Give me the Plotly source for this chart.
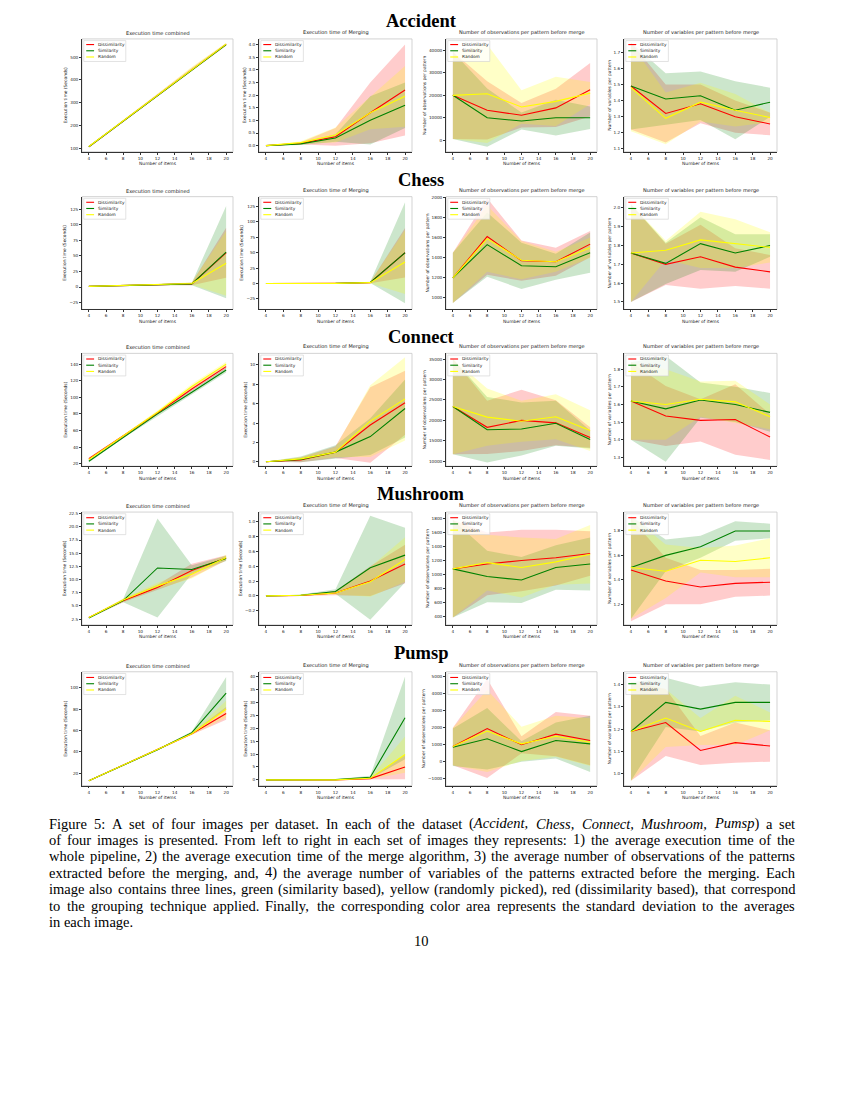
import re
import plotly.graph_objects as go

# ---------------- data ----------------
X_ITEMS = [4, 8, 12, 16, 20]
X_TICKS = [4, 6, 8, 10, 12, 14, 16, 18, 20]
DATASETS = ["Accident", "Chess", "Connect", "Mushroom", "Pumsp"]
PANEL_TITLES = ["Execution time combined", "Execution time of Merging",
                "Number of observations per pattern before merge",
                "Number of variables per pattern before merge"]
Y_TITLES = ["Execution time (Seconds)", "Execution time (Seconds)",
            "Number of observations per pattern", "Number of variables per pattern"]
X_TITLE = "Number of items"
METHODS = ["Dissimilarity", "Similarity", "Random"]

# Accident
ACC_COMB_DIS = [107, 220, 333, 447, 556]
ACC_COMB_DIS_SD = [2, 3, 4, 6, 5]
ACC_COMB_SIM = [107, 219, 331, 445, 555]
ACC_COMB_SIM_SD = [2, 3, 4, 5, 5]
ACC_COMB_RND = [108, 221, 334, 448, 557]
ACC_COMB_RND_SD = [2, 3, 5, 10, 6]
ACC_MERGE_DIS = [0.0, 0.09, 0.35, 1.3, 2.2]
ACC_MERGE_DIS_SD = [0.01, 0.04, 0.35, 1.2, 1.8]
ACC_MERGE_SIM = [0.0, 0.07, 0.3, 1.0, 1.6]
ACC_MERGE_SIM_SD = [0.01, 0.04, 0.15, 0.95, 0.9]
ACC_MERGE_RND = [0.0, 0.12, 0.42, 1.3, 1.95]
ACC_MERGE_RND_SD = [0.01, 0.05, 0.3, 0.65, 1.2]
ACC_OBS_DIS = [20000, 13300, 11100, 14400, 22500]
ACC_OBS_DIS_SD = [19500, 13000, 5500, 8500, 12000]
ACC_OBS_SIM = [20000, 10000, 8500, 10000, 10000]
ACC_OBS_SIM_SD = [19500, 13000, 3800, 8000, 5000]
ACC_OBS_RND = [20000, 20700, 14800, 17300, 21000]
ACC_OBS_RND_SD = [19500, 22000, 7500, 11000, 5000]
ACC_VAR_DIS = [1.49, 1.32, 1.38, 1.30, 1.255]
ACC_VAR_DIS_SD = [0.27, 0.18, 0.12, 0.10, 0.07]
ACC_VAR_SIM = [1.49, 1.41, 1.43, 1.34, 1.39]
ACC_VAR_SIM_SD = [0.27, 0.16, 0.15, 0.18, 0.09]
ACC_VAR_RND = [1.48, 1.29, 1.39, 1.34, 1.295]
ACC_VAR_RND_SD = [0.27, 0.16, 0.12, 0.10, 0.03]

# Chess
CHE_COMB_DIS = [1.0, 2.0, 3.8, 5.0, 55]
CHE_COMB_DIS_SD = [0.3, 0.5, 1.0, 2.0, 40]
CHE_COMB_SIM = [1.0, 2.0, 3.8, 5.0, 56]
CHE_COMB_SIM_SD = [0.3, 0.5, 1.0, 2.0, 74]
CHE_COMB_RND = [1.0, 2.2, 4.0, 5.5, 38]
CHE_COMB_RND_SD = [0.3, 0.5, 1.0, 2.0, 52]
CHE_MERGE_DIS = [0.0, 0.1, 0.3, 1.5, 50]
CHE_MERGE_DIS_SD = [0.0, 0.05, 0.2, 1.0, 40]
CHE_MERGE_SIM = [0.0, 0.1, 0.3, 1.8, 50]
CHE_MERGE_SIM_SD = [0.0, 0.05, 0.2, 1.0, 82]
CHE_MERGE_RND = [0.0, 0.1, 0.3, 1.5, 35]
CHE_MERGE_RND_SD = [0.0, 0.05, 0.2, 1.0, 52]
CHE_OBS_DIS = [1200, 1610, 1370, 1360, 1535]
CHE_OBS_DIS_SD = [250, 380, 200, 140, 130]
CHE_OBS_SIM = [1200, 1530, 1320, 1310, 1450]
CHE_OBS_SIM_SD = [250, 320, 230, 130, 200]
CHE_OBS_RND = [1200, 1590, 1375, 1360, 1500]
CHE_OBS_RND_SD = [250, 330, 190, 100, 100]
CHE_VAR_DIS = [1.76, 1.70, 1.74, 1.685, 1.66]
CHE_VAR_DIS_SD = [0.26, 0.11, 0.17, 0.10, 0.09]
CHE_VAR_SIM = [1.76, 1.705, 1.81, 1.76, 1.80]
CHE_VAR_SIM_SD = [0.26, 0.11, 0.14, 0.10, 0.06]
CHE_VAR_RND = [1.76, 1.775, 1.83, 1.81, 1.79]
CHE_VAR_RND_SD = [0.26, 0.05, 0.15, 0.13, 0.08]

# Connect
CON_COMB_DIS = [26, 53, 81, 110, 137]
CON_COMB_DIS_SD = [1.5, 1.5, 2.0, 2.5, 3.0]
CON_COMB_SIM = [23, 52, 80, 106, 133]
CON_COMB_SIM_SD = [1.5, 1.5, 2.0, 2.5, 3.0]
CON_COMB_RND = [25, 53, 82, 113, 140]
CON_COMB_RND_SD = [1.5, 1.5, 2.0, 3.0, 3.0]
CON_MERGE_DIS = [0.0, 0.2, 1.0, 3.8, 6.1]
CON_MERGE_DIS_SD = [0.0, 0.25, 0.6, 3.9, 3.3]
CON_MERGE_SIM = [0.0, 0.25, 1.0, 2.6, 5.5]
CON_MERGE_SIM_SD = [0.0, 0.3, 0.7, 1.9, 3.0]
CON_MERGE_RND = [0.0, 0.3, 1.0, 4.2, 6.5]
CON_MERGE_RND_SD = [0.0, 0.2, 0.5, 3.7, 4.3]
CON_OBS_DIS = [23400, 18300, 20000, 19400, 15800]
CON_OBS_DIS_SD = [11700, 6500, 7500, 5500, 2500]
CON_OBS_SIM = [23400, 17700, 17900, 19300, 15300]
CON_OBS_SIM_SD = [11700, 8000, 6500, 5500, 2200]
CON_OBS_RND = [23400, 20800, 19800, 20900, 17500]
CON_OBS_RND_SD = [11700, 7000, 5000, 5500, 5000]
CON_VAR_DIS = [1.62, 1.535, 1.51, 1.515, 1.415]
CON_VAR_DIS_SD = [0.22, 0.17, 0.12, 0.20, 0.13]
CON_VAR_SIM = [1.62, 1.575, 1.625, 1.60, 1.555]
CON_VAR_SIM_SD = [0.22, 0.30, 0.10, 0.10, 0.11]
CON_VAR_RND = [1.62, 1.60, 1.63, 1.615, 1.53]
CON_VAR_RND_SD = [0.22, 0.20, 0.10, 0.12, 0.07]

# Mushroom
MUS_COMB_DIS = [2.8, 6.0, 8.5, 11.7, 14.1]
MUS_COMB_DIS_SD = [0.1, 0.3, 0.5, 1.3, 0.5]
MUS_COMB_SIM = [2.7, 6.0, 12.2, 11.9, 14.0]
MUS_COMB_SIM_SD = [0.1, 0.3, 9.4, 0.8, 0.5]
MUS_COMB_RND = [2.8, 6.1, 8.8, 11.0, 14.2]
MUS_COMB_RND_SD = [0.1, 0.3, 0.6, 0.8, 0.5]
MUS_MERGE_DIS = [0.0, 0.005, 0.04, 0.2, 0.43]
MUS_MERGE_DIS_SD = [0.0, 0.005, 0.03, 0.2, 0.26]
MUS_MERGE_SIM = [0.0, 0.01, 0.06, 0.38, 0.55]
MUS_MERGE_SIM_SD = [0.0, 0.01, 0.03, 0.7, 0.37]
MUS_MERGE_RND = [0.0, 0.01, 0.04, 0.19, 0.49]
MUS_MERGE_RND_SD = [0.0, 0.01, 0.02, 0.2, 0.3]
MUS_OBS_DIS = [1080, 1150, 1200, 1240, 1300]
MUS_OBS_DIS_SD = [700, 450, 440, 400, 320]
MUS_OBS_SIM = [1080, 970, 920, 1100, 1150]
MUS_OBS_SIM_SD = [700, 370, 330, 320, 380]
MUS_OBS_RND = [1080, 1170, 1100, 1180, 1290]
MUS_OBS_RND_SD = [700, 400, 430, 330, 420]
MUS_VAR_DIS = [1.48, 1.39, 1.34, 1.37, 1.38]
MUS_VAR_DIS_SD = [0.42, 0.19, 0.14, 0.11, 0.11]
MUS_VAR_SIM = [1.50, 1.60, 1.67, 1.80, 1.80]
MUS_VAR_SIM_SD = [0.42, 0.13, 0.09, 0.08, 0.06]
MUS_VAR_RND = [1.50, 1.47, 1.56, 1.55, 1.58]
MUS_VAR_RND_SD = [0.42, 0.22, 0.10, 0.13, 0.16]

# Pumsp
PUM_COMB_DIS = [13, 27.5, 42, 57, 76]
PUM_COMB_DIS_SD = [0.3, 0.5, 0.6, 1.0, 6]
PUM_COMB_SIM = [13, 27.5, 42, 58, 95]
PUM_COMB_SIM_SD = [0.3, 0.5, 0.6, 1.0, 15]
PUM_COMB_RND = [13, 27.5, 42, 57, 80]
PUM_COMB_RND_SD = [0.3, 0.5, 0.6, 1.0, 8]
PUM_MERGE_DIS = [0.0, 0.0, 0.0, 0.5, 5.0]
PUM_MERGE_DIS_SD = [0.0, 0.0, 0.0, 0.3, 4.8]
PUM_MERGE_SIM = [0.0, 0.0, 0.1, 1.0, 24]
PUM_MERGE_SIM_SD = [0.0, 0.0, 0.1, 0.6, 16]
PUM_MERGE_RND = [0.0, 0.0, 0.0, 0.6, 9.8]
PUM_MERGE_RND_SD = [0.0, 0.0, 0.0, 0.3, 7.0]
PUM_OBS_DIS = [900, 1950, 1000, 1620, 1250]
PUM_OBS_DIS_SD = [1100, 2900, 500, 1300, 1450]
PUM_OBS_SIM = [850, 1350, 600, 1250, 1050]
PUM_OBS_SIM_SD = [1100, 1800, 600, 1050, 1650]
PUM_OBS_RND = [900, 1800, 1050, 1500, 1150]
PUM_OBS_RND_SD = [1100, 2400, 1000, 1200, 1400]
PUM_VAR_DIS = [1.19, 1.23, 1.105, 1.14, 1.125]
PUM_VAR_DIS_SD = [0.22, 0.15, 0.065, 0.09, 0.07]
PUM_VAR_SIM = [1.19, 1.32, 1.29, 1.32, 1.32]
PUM_VAR_SIM_SD = [0.22, 0.11, 0.10, 0.09, 0.08]
PUM_VAR_RND = [1.19, 1.25, 1.19, 1.24, 1.235]
PUM_VAR_RND_SD = [0.22, 0.13, 0.06, 0.11, 0.04]

CAPTION_LINES = [
    "Figure 5: A set of four images per dataset. In each of the dataset (<i>Accident,</i> <i>Chess,</i> <i>Connect,</i> <i>Mushroom,</i> <i>Pumsp</i>) a set",
    "of four images is presented. From left to right in each set of images they represents: 1) the average execution time of the",
    "whole pipeline, 2) the average execution time of the merge algorithm, 3) the average number of observations of the patterns",
    "extracted before the merging, and, 4) the average number of variables of the patterns extracted before the merging. Each",
    "image also contains three lines, green (similarity based), yellow (randomly picked), red (dissimilarity based), that correspond",
    "to the grouping technique applied. Finally, the corresponding color area represents the standard deviation to the averages",
    "in each image.",
]
PAGE_NUMBER = "10"

PANELS = [
    [[(ACC_COMB_DIS, ACC_COMB_DIS_SD), (ACC_COMB_SIM, ACC_COMB_SIM_SD), (ACC_COMB_RND, ACC_COMB_RND_SD)],
     [(ACC_MERGE_DIS, ACC_MERGE_DIS_SD), (ACC_MERGE_SIM, ACC_MERGE_SIM_SD), (ACC_MERGE_RND, ACC_MERGE_RND_SD)],
     [(ACC_OBS_DIS, ACC_OBS_DIS_SD), (ACC_OBS_SIM, ACC_OBS_SIM_SD), (ACC_OBS_RND, ACC_OBS_RND_SD)],
     [(ACC_VAR_DIS, ACC_VAR_DIS_SD), (ACC_VAR_SIM, ACC_VAR_SIM_SD), (ACC_VAR_RND, ACC_VAR_RND_SD)]],
    [[(CHE_COMB_DIS, CHE_COMB_DIS_SD), (CHE_COMB_SIM, CHE_COMB_SIM_SD), (CHE_COMB_RND, CHE_COMB_RND_SD)],
     [(CHE_MERGE_DIS, CHE_MERGE_DIS_SD), (CHE_MERGE_SIM, CHE_MERGE_SIM_SD), (CHE_MERGE_RND, CHE_MERGE_RND_SD)],
     [(CHE_OBS_DIS, CHE_OBS_DIS_SD), (CHE_OBS_SIM, CHE_OBS_SIM_SD), (CHE_OBS_RND, CHE_OBS_RND_SD)],
     [(CHE_VAR_DIS, CHE_VAR_DIS_SD), (CHE_VAR_SIM, CHE_VAR_SIM_SD), (CHE_VAR_RND, CHE_VAR_RND_SD)]],
    [[(CON_COMB_DIS, CON_COMB_DIS_SD), (CON_COMB_SIM, CON_COMB_SIM_SD), (CON_COMB_RND, CON_COMB_RND_SD)],
     [(CON_MERGE_DIS, CON_MERGE_DIS_SD), (CON_MERGE_SIM, CON_MERGE_SIM_SD), (CON_MERGE_RND, CON_MERGE_RND_SD)],
     [(CON_OBS_DIS, CON_OBS_DIS_SD), (CON_OBS_SIM, CON_OBS_SIM_SD), (CON_OBS_RND, CON_OBS_RND_SD)],
     [(CON_VAR_DIS, CON_VAR_DIS_SD), (CON_VAR_SIM, CON_VAR_SIM_SD), (CON_VAR_RND, CON_VAR_RND_SD)]],
    [[(MUS_COMB_DIS, MUS_COMB_DIS_SD), (MUS_COMB_SIM, MUS_COMB_SIM_SD), (MUS_COMB_RND, MUS_COMB_RND_SD)],
     [(MUS_MERGE_DIS, MUS_MERGE_DIS_SD), (MUS_MERGE_SIM, MUS_MERGE_SIM_SD), (MUS_MERGE_RND, MUS_MERGE_RND_SD)],
     [(MUS_OBS_DIS, MUS_OBS_DIS_SD), (MUS_OBS_SIM, MUS_OBS_SIM_SD), (MUS_OBS_RND, MUS_OBS_RND_SD)],
     [(MUS_VAR_DIS, MUS_VAR_DIS_SD), (MUS_VAR_SIM, MUS_VAR_SIM_SD), (MUS_VAR_RND, MUS_VAR_RND_SD)]],
    [[(PUM_COMB_DIS, PUM_COMB_DIS_SD), (PUM_COMB_SIM, PUM_COMB_SIM_SD), (PUM_COMB_RND, PUM_COMB_RND_SD)],
     [(PUM_MERGE_DIS, PUM_MERGE_DIS_SD), (PUM_MERGE_SIM, PUM_MERGE_SIM_SD), (PUM_MERGE_RND, PUM_MERGE_RND_SD)],
     [(PUM_OBS_DIS, PUM_OBS_DIS_SD), (PUM_OBS_SIM, PUM_OBS_SIM_SD), (PUM_OBS_RND, PUM_OBS_RND_SD)],
     [(PUM_VAR_DIS, PUM_VAR_DIS_SD), (PUM_VAR_SIM, PUM_VAR_SIM_SD), (PUM_VAR_RND, PUM_VAR_RND_SD)]],
]

# ---------------- axes / styling ----------------
# (range, tick0, dtick, tickformat)
Y_AXES = [
    [([85, 580], 100, 100, "d"), ([-0.24, 4.22], 0, 0.5, ".1f"),
     ([-5200, 45200], 0, 10000, "d"), ([1.083, 1.782], 1.1, 0.1, ".1f")],
    [([-36, 145], -25, 25, "d"), ([-42, 141], -25, 25, "d"),
     ([886, 2007], 1000, 200, "d"), ([1.46, 2.06], 1.5, 0.1, ".1f")],
    [([17, 153], 20, 20, "d"), ([-0.45, 11.2], 0, 2, "d"),
     ([8800, 36400], 10000, 5000, "d"), ([1.25, 1.89], 1.3, 0.1, ".1f")],
    [([1.4, 22.8], 2.5, 2.5, ".1f"), ([-0.39, 1.13], -0.2, 0.2, ".1f"),
     ([276, 1895], 400, 200, "d"), ([1.03, 1.955], 1.2, 0.2, ".1f")],
    [([8.5, 115], 20, 20, "d"), ([-2.2, 41.8], 0, 5, "d"),
     ([-1390, 5270], -1000, 1000, "d"), ([0.948, 1.457], 1.0, 0.1, ".1f")],
]

W, H = 850, 1100
COL_PX = [(82, 233), (259, 412), (446, 597), (624, 777)]
ROW_PX = [(37, 150), (195, 308), (352, 465), (511, 624), (671, 785)]
ROW_TITLE_Y = [19, 178, 336, 493, 652]

LINE_COLORS = ["#ff0000", "#008000", "#ffff00"]
FILL_COLORS = ["rgba(255,0,0,0.2)", "rgba(0,128,0,0.2)", "rgba(255,255,0,0.22)"]
SANS = "DejaVu Sans"
SERIF = "Liberation Serif"

# Times-compatible advance widths (1/1000 em) used to justify the caption
_TW = {" ": 250, ",": 250, ".": 250, ":": 278, "(": 333, ")": 333, "-": 333}
_TW.update({c: 500 for c in "0123456789"})
_TW.update(dict(zip("abcdefghijklmnopqrstuvwxyz",
                    [444, 500, 444, 500, 444, 333, 500, 500, 278, 278, 500, 278, 778,
                     500, 500, 500, 500, 333, 389, 278, 500, 500, 722, 500, 500, 444])))
_TW.update(dict(zip("ABCDEFGHIJKLMNOPQRSTUVWXYZ",
                    [722, 667, 667, 722, 611, 556, 722, 722, 333, 389, 722, 611, 889,
                     722, 722, 556, 722, 667, 556, 611, 722, 722, 944, 722, 722, 611])))


def text_w(s, size):
    plain = re.sub(r"<[^>]+>", "", s)
    return sum(_TW.get(ch, 500) for ch in plain) / 1000.0 * size


fig = go.Figure()
layout = {}
annotations = []
shapes = []

for r in range(5):
    for c in range(4):
        i = r * 4 + c + 1
        sfx = "" if i == 1 else str(i)
        xa, ya = "x" + sfx, "y" + sfx
        series = PANELS[r][c]
        for (m, s), fc in zip(series, FILL_COLORS):
            up = [a + b for a, b in zip(m, s)]
            lo = [a - b for a, b in zip(m, s)]
            fig.add_trace(go.Scatter(
                x=X_ITEMS + X_ITEMS[::-1], y=up + lo[::-1], fill="toself",
                fillcolor=fc, mode="lines", line=dict(width=0, color=fc),
                xaxis=xa, yaxis=ya, showlegend=False, hoverinfo="skip"))
        for (m, s), lc, name in zip(series, LINE_COLORS, METHODS):
            fig.add_trace(go.Scatter(
                x=X_ITEMS, y=m, mode="lines", name=name,
                line=dict(color=lc, width=1.1),
                xaxis=xa, yaxis=ya, showlegend=False))

        x0, x1 = COL_PX[c]
        top, bot = ROW_PX[r]
        yr, t0, dt, fmt = Y_AXES[r][c]
        layout["xaxis" + sfx] = dict(
            domain=[x0 / W, x1 / W], anchor=ya, range=[3.2, 20.8],
            tickmode="array", tickvals=X_TICKS, ticks="outside", ticklen=2,
            tickwidth=0.6, tickcolor="#333", showgrid=False, zeroline=False,
            showline=True, linecolor="#333", linewidth=0.8,
            tickfont=dict(family=SANS, size=4.2, color="#222"),
            title=dict(text=X_TITLE, font=dict(family=SANS, size=4.4, color="#222"), standoff=2))
        layout["yaxis" + sfx] = dict(
            domain=[1 - bot / H, 1 - top / H], anchor=xa, range=yr,
            tick0=t0, dtick=dt, tickformat=fmt, ticks="outside", ticklen=2,
            tickwidth=0.6, tickcolor="#333", showgrid=False, zeroline=False,
            showline=True, linecolor="#333", linewidth=0.8,
            tickfont=dict(family=SANS, size=4.2, color="#222"),
            title=dict(text=Y_TITLES[c], font=dict(family=SANS, size=4.4, color="#222"), standoff=2))

        xd, yd = xa + " domain", ya + " domain"
        shapes.append(dict(type="rect", xref=xd, yref=yd, x0=0, x1=1, y0=0, y1=1,
                           line=dict(color="#c8c8c8", width=0.8), layer="below"))
        annotations.append(dict(text=PANEL_TITLES[c], xref=xd, yref=yd, x=0.5, y=1.0,
                                yanchor="bottom", xanchor="center", yshift=1, showarrow=False,
                                font=dict(family=SANS, size=5.0, color="#222")))
        shapes.append(dict(type="rect", xref=xd, yref=yd, x0=0.012, x1=0.29, y0=0.80, y1=0.985,
                           line=dict(color="#d0d0d0", width=0.6),
                           fillcolor="rgba(255,255,255,0.8)", layer="above"))
        for k, (name, lc) in enumerate(zip(METHODS, LINE_COLORS)):
            yy = 0.95 - k * 0.055
            shapes.append(dict(type="line", xref=xd, yref=yd, x0=0.028, x1=0.08, y0=yy, y1=yy,
                               line=dict(color=lc, width=1.1), layer="above"))
            annotations.append(dict(text=name, xref=xd, yref=yd, x=0.093, y=yy,
                                    xanchor="left", yanchor="middle", showarrow=False,
                                    font=dict(family=SANS, size=4.3, color="#222")))

for name, yp in zip(DATASETS, ROW_TITLE_Y):
    annotations.append(dict(text="<b>" + name + "</b>", xref="paper", yref="paper",
                            x=421 / W, y=1 - yp / H, xanchor="center", yanchor="middle",
                            showarrow=False, font=dict(family=SERIF, size=18.5, color="black")))

# caption: justified lines (each word placed), last line left aligned
CAP_SIZE = 14.5
CAP_L, CAP_R = 47, 793
for k, line in enumerate(CAPTION_LINES):
    yp = 1 - (823 + 16.5 * k) / H
    words = line.split(" ")
    last = (k == len(CAPTION_LINES) - 1)
    if last:
        annotations.append(dict(text=line, xref="paper", yref="paper", x=CAP_L / W, y=yp,
                                xanchor="left", yanchor="middle", showarrow=False,
                                font=dict(family=SERIF, size=CAP_SIZE, color="black")))
        continue
    widths = [text_w(w, CAP_SIZE) for w in words]
    gap = (CAP_R - CAP_L - sum(widths)) / (len(words) - 1)
    xpos = CAP_L
    for w, ww in zip(words, widths):
        annotations.append(dict(text=w, xref="paper", yref="paper", x=xpos / W, y=yp,
                                xanchor="left", yanchor="middle", showarrow=False,
                                font=dict(family=SERIF, size=CAP_SIZE, color="black")))
        xpos += ww + gap

annotations.append(dict(text=PAGE_NUMBER, xref="paper", yref="paper", x=421 / W,
                        y=1 - 941 / H, xanchor="center", yanchor="middle", showarrow=False,
                        font=dict(family=SERIF, size=14.5, color="black")))

fig.update_layout(**layout)
fig.update_layout(width=W, height=H, margin=dict(l=0, r=0, t=0, b=0),
                  paper_bgcolor="white", plot_bgcolor="white",
                  annotations=annotations, shapes=shapes, showlegend=False)

fig.write_html("out.html", include_plotlyjs=True, config={"displayModeBar": False},
               post_script="document.body.style.margin='0px';")
